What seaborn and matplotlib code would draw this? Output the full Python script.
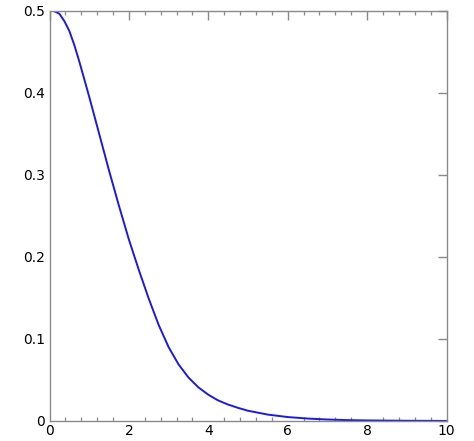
import matplotlib
matplotlib.use('Agg')
import matplotlib.pyplot as plt
import seaborn as sns
import pandas as pd
from matplotlib.ticker import MultipleLocator, FuncFormatter

# values
x_vals = [0, 0.125, 0.25, 0.375, 0.5, 0.625, 0.75, 1.0, 1.25, 1.5, 1.75,
          2.0, 2.25, 2.5, 2.75, 3.0, 3.25, 3.5, 3.75, 4.0, 4.25, 4.5, 4.75,
          5.0, 5.5, 6.0, 6.5, 7.0, 7.5, 8.0, 9.0, 10.0]
y_vals = [0.500, 0.499, 0.496, 0.487, 0.475, 0.458, 0.438, 0.395, 0.350,
          0.305, 0.262, 0.221, 0.184, 0.149, 0.117, 0.090, 0.069, 0.053,
          0.041, 0.032, 0.025, 0.020, 0.016, 0.0125, 0.0078, 0.0048, 0.003,
          0.0018, 0.0011, 0.0007, 0.0003, 0.0001]
x_ticks = [0, 2, 4, 6, 8, 10]
y_ticks = [0, 0.1, 0.2, 0.3, 0.4, 0.5]

df = pd.DataFrame({'x': x_vals, 'y': y_vals})

sns.set_style('white')
plt.rcParams['font.family'] = ['DejaVu Sans']

fig = plt.figure(figsize=(4.74, 4.41), dpi=100)
ax = fig.add_axes([49.5 / 474, 20 / 441, (446.5 - 49.5) / 474, (421 - 10.5) / 441])

sns.lineplot(data=df, x='x', y='y', ax=ax, color='#1a1ae6', linewidth=1.4)

ax.set_xlim(0, 10)
ax.set_ylim(0, 0.5)
ax.set_xticks(x_ticks)
ax.set_yticks(y_ticks)
ax.xaxis.set_minor_locator(MultipleLocator(0.4))
ax.yaxis.set_major_formatter(FuncFormatter(lambda v, p: '0' if v == 0 else f'{v:.1f}'))
ax.set_xlabel('')
ax.set_ylabel('')

for s in ax.spines.values():
    s.set_color('#8a8a8a')
    s.set_linewidth(1.0)

ax.tick_params(which='major', direction='in', length=6.5, width=1.0, color='#8a8a8a',
               top=True, right=True, labelsize=10, labelcolor='black', pad=3)
ax.tick_params(which='minor', direction='in', length=3, width=0.9, color='#8a8a8a',
               top=True, bottom=True, left=False, right=False)
ax.tick_params(axis='x', pad=2)

fig.savefig('out.png', dpi=100)
